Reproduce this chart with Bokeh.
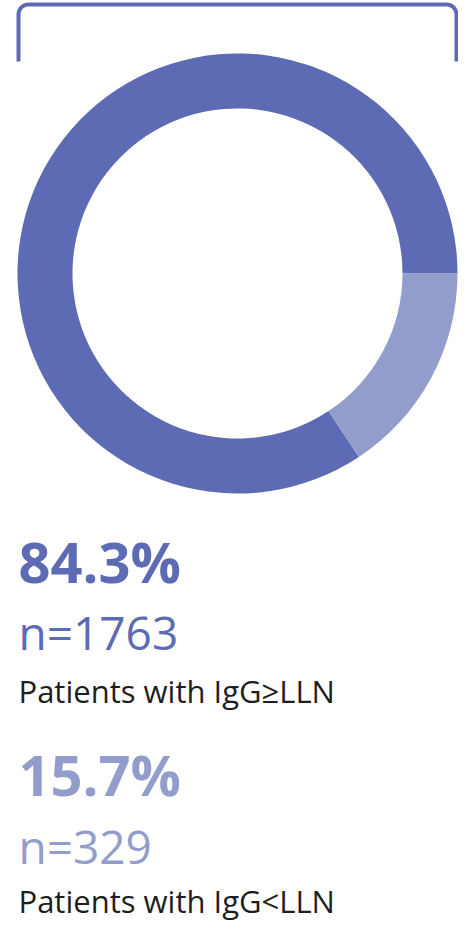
import numpy as np
from bokeh.plotting import figure
from bokeh.models import Range1d
from bokeh.core.properties import value
from bokeh.embed import file_html
from bokeh.resources import INLINE

# ---- data ----
categories = ["Patients with IgG\u2265LLN", "Patients with IgG<LLN"]
percents = [84.3, 15.7]
counts = [1763, 329]
colors = ["#5c6bb3", "#929dcc"]

W, H = 458, 934
p = figure(width=W, height=H, output_backend="svg", toolbar_location=None,
           x_range=Range1d(0, W), y_range=Range1d(0, H), min_border=0,
           outline_line_color=None, background_fill_color="white")
p.axis.visible = False
p.grid.visible = False

def X(wx):
    return wx

def Y(wy):
    return H - wy

# ---- bracket ----
r = 10
left, right, top, bottom = 18, 456, 4, 61
t1 = np.linspace(np.pi, np.pi / 2, 12)
t2 = np.linspace(np.pi / 2, 0, 12)
xs = [left] + list(left + r + r * np.cos(t1)) + list(right - r + r * np.cos(t2)) + [right]
ys = [bottom] + list(top + r - r * np.sin(t1)) + list(top + r - r * np.sin(t2)) + [bottom]
p.line([X(v) for v in xs], [Y(v) for v in ys], line_color=colors[0], line_width=4,
       line_join="round")

# ---- donut ----
cx, cy = 237, 273
fr = np.array(percents) / sum(percents)
ends = np.cumsum(fr) * 2 * np.pi
starts = np.concatenate([[0], ends[:-1]])
p.annular_wedge(x=X(cx), y=Y(cy), inner_radius=165, outer_radius=220,
                start_angle=starts, end_angle=ends, color=colors,
                line_color=None)

# ---- texts ----
font = value("Open Sans")
sizes = (56, 46, 31)
blocks = [(582, 649, 703), (795, 863, 913)]
for i, bl in enumerate(blocks):
    b1, b2, b3 = [b - 0.39 * s for b, s in zip(bl, sizes)]
    p.text(x=[X(18)], y=[Y(b1)], text=[f"{percents[i]:.1f}%"], text_font=font,
           text_font_size=f"{sizes[0]}px", text_font_style="bold", text_color=colors[i],
           text_baseline="alphabetic", text_align="left")
    p.text(x=[X(18)], y=[Y(b2)], text=[f"n={counts[i]}"], text_font=font,
           text_font_size=f"{sizes[1]}px", text_color=colors[i],
           text_baseline="alphabetic", text_align="left")
    p.text(x=[X(18)], y=[Y(b3)], text=[categories[i]], text_font=font,
           text_font_size=f"{sizes[2]}px", text_color="#1e1e1e",
           text_baseline="alphabetic", text_align="left")

open("out.html", "w").write(file_html(p, INLINE))
